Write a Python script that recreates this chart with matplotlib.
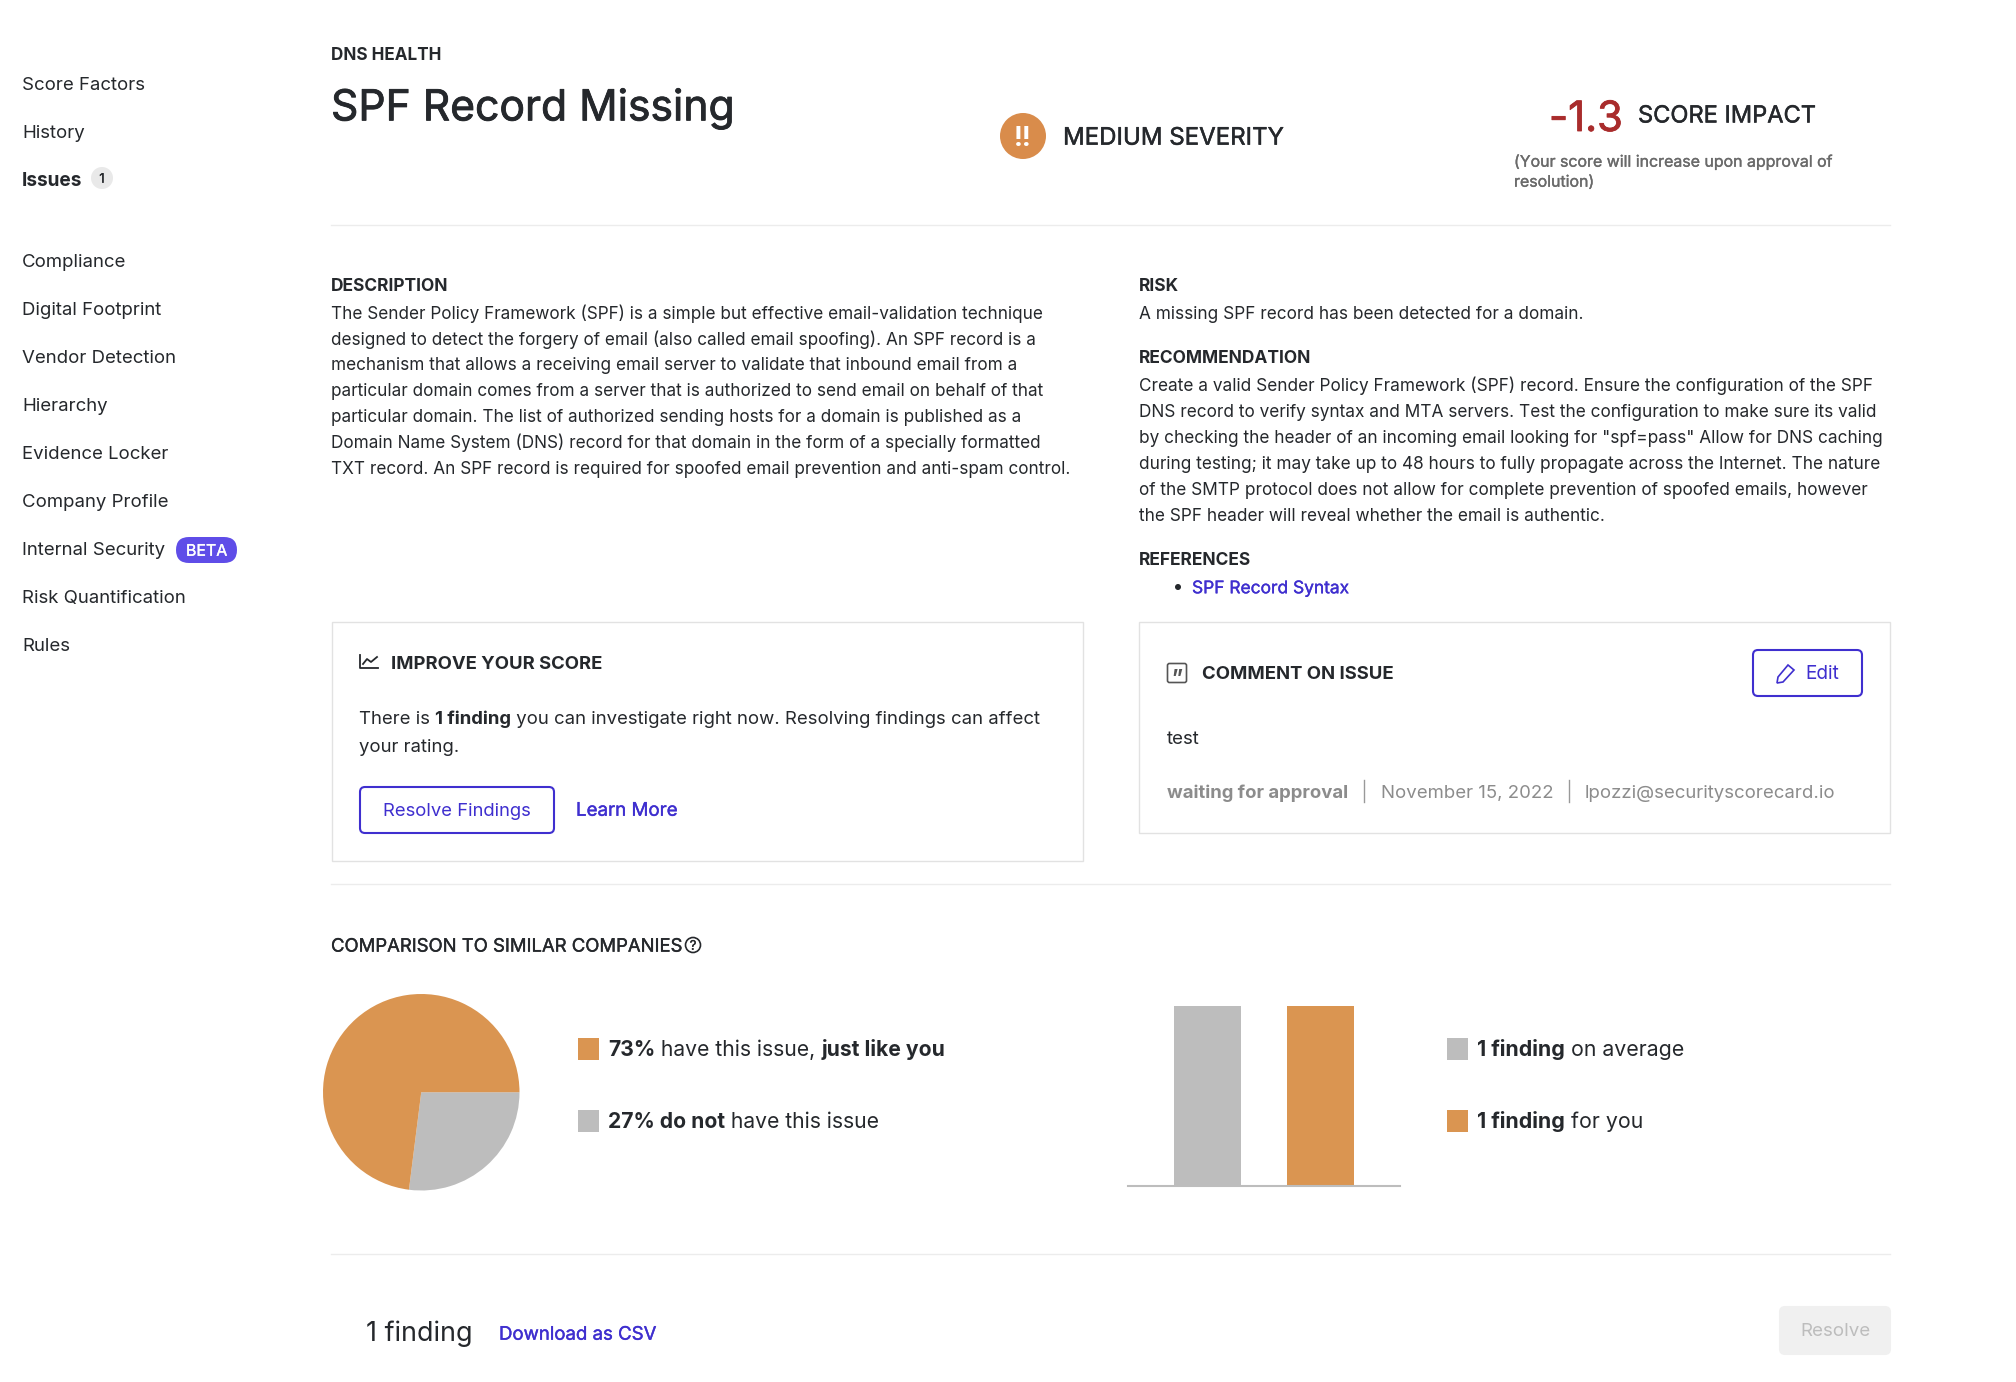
import matplotlib
matplotlib.use('Agg')
import matplotlib.pyplot as plt
import matplotlib.patheffects as pe
from matplotlib.patches import Circle, FancyBboxPatch, Polygon, Rectangle

W, H = 2016, 1382
FONT = ['Inter', 'DejaVu Sans']
DARK = '#25282c'
BLUE = '#3f2fcf'
ORANGE = '#da9551'
GRAY = '#bdbdbd'
LINE = '#ececec'

# data
pie_labels = ['do not have this issue', 'have this issue']
pie_values = [27, 73]
bar_labels = ['on average', 'for you']
bar_values = [1, 1]

nav_top = ['Score Factors', 'History']
nav_bottom = ['Compliance', 'Digital Footprint', 'Vendor Detection', 'Hierarchy',
              'Evidence Locker', 'Company Profile', 'Internal Security',
              'Risk Quantification', 'Rules']

description = [
    'The Sender Policy Framework (SPF) is a simple but effective email-validation technique',
    'designed to detect the forgery of email (also called email spoofing). An SPF record is a',
    'mechanism that allows a receiving email server to validate that inbound email from a',
    'particular domain comes from a server that is authorized to send email on behalf of that',
    'particular domain. The list of authorized sending hosts for a domain is published as a',
    'Domain Name System (DNS) record for that domain in the form of a specially formatted',
    'TXT record. An SPF record is required for spoofed email prevention and anti-spam control.',
]
recommendation = [
    'Create a valid Sender Policy Framework (SPF) record. Ensure the configuration of the SPF',
    'DNS record to verify syntax and MTA servers. Test the configuration to make sure its valid',
    'by checking the header of an incoming email looking for "spf=pass" Allow for DNS caching',
    'during testing; it may take up to 48 hours to fully propagate across the Internet. The nature',
    'of the SMTP protocol does not allow for complete prevention of spoofed emails, however',
    'the SPF header will reveal whether the email is authentic.',
]

fig = plt.figure(figsize=(W / 100, H / 100), dpi=100, facecolor='white')
ax = fig.add_axes([0, 0, 1, 1])
ax.set_xlim(0, W)
ax.set_ylim(H, 0)
ax.axis('off')
renderer = fig.canvas.get_renderer()


def text_width(s, size, weight):
    weight = 'normal' if weight == 'medium' else weight
    probe = ax.text(0, 0, s + '|', fontsize=size, fontweight=weight, family=FONT)
    bar = ax.text(0, 0, '|', fontsize=size, fontweight=weight, family=FONT)
    w = probe.get_window_extent(renderer).width - bar.get_window_extent(renderer).width
    probe.remove()
    bar.remove()
    return w


def put(x, y, parts, size=13.4, color=DARK, ha='left'):
    """Runs of (text, weight) on one line, y is the middle of the capitals"""
    if isinstance(parts, str):
        parts = [(parts, 'normal')]
    base = y + 0.36 * size * 100 / 72
    if ha == 'center':
        x = x - sum(text_width(s, size, w) for s, w in parts) / 2
    for s, w in parts:
        t = ax.text(x, base, s, fontsize=size, color=color, family=FONT, ha='left', va='baseline',
                    fontweight='normal' if w == 'medium' else w)
        if w == 'medium':
            # no medium cut of the font, thicken the regular one a little
            t.set_path_effects([pe.withStroke(linewidth=size * 0.02, foreground=color)])
        x += text_width(s, size, w)


def hline(y, x0=331, x1=1890):
    ax.plot([x0, x1], [y, y], color=LINE, lw=1)


def box(x0, y0, x1, y1):
    ax.add_patch(Rectangle((x0, y0), x1 - x0, y1 - y0, fc='white', ec='#e2e2e2', lw=1))


def button(x0, y0, x1, y1, fc='white', ec=BLUE):
    ax.add_patch(FancyBboxPatch((x0, y0), x1 - x0, y1 - y0,
                                boxstyle='round,pad=0,rounding_size=5',
                                fc=fc, ec=ec, lw=1.5))


def px_axes(x0, y0, x1, y1):
    return fig.add_axes([x0 / W, 1 - y1 / H, (x1 - x0) / W, (y1 - y0) / H])


# sidebar
for label, y in zip(nav_top, [83, 131]):
    put(22, y, label)
put(22, 179, [('Issues', 'bold')], size=13.7)
ax.add_patch(Circle((102, 178), 11, fc='#e9e9e9', ec='none'))
put(102, 178, [('1', 'medium')], size=9.5, ha='center')
for i, label in enumerate(nav_bottom):
    put(22, 260 + i * 48, label)
ax.add_patch(FancyBboxPatch((176, 537), 61, 26, boxstyle='round,pad=0,rounding_size=13',
                            fc='#5f4de8', ec='none'))
put(206.5, 550, [('BETA', 'medium')], size=11.5, color='white', ha='center')

# header
put(331, 54, [('DNS HEALTH', 'bold')], size=12.3)
put(331, 105, [('SPF Record Missing', 'medium')], size=30.7)
ax.add_patch(Circle((1023, 136), 23, fc='#d98c4b', ec='none'))
put(1023, 136, [('!!', 'bold')], size=19, color='white', ha='center')
put(1063, 136, [('MEDIUM SEVERITY', 'medium')], size=17.3)
put(1549, 116, [('-1.3', 'medium')], size=30, color='#a92c2c')
put(1638, 114, [('SCORE IMPACT', 'medium')], size=17)
put(1514, 161, [('(Your score will increase upon approval of', 'medium')], size=11.45, color='#6a6a6a')
put(1514, 181, [('resolution)', 'medium')], size=11.45, color='#6a6a6a')
hline(224.5)

# description, risk, recommendation
put(331, 284.5, [('DESCRIPTION', 'bold')], size=12.5)
for i, line in enumerate(description):
    put(331, 312.5 + i * 25.9, line, size=12.35)
put(1139, 284.5, [('RISK', 'bold')], size=12.5)
put(1139, 312.5, 'A missing SPF record has been detected for a domain.', size=12.4)
put(1139, 356.5, [('RECOMMENDATION', 'bold')], size=12.5)
for i, line in enumerate(recommendation):
    put(1139, 385 + i * 25.9, line, size=12.4)
put(1139, 558.5, [('REFERENCES', 'bold')], size=12.5)
ax.add_patch(Circle((1178, 587), 3, fc=DARK, ec='none'))
put(1192, 587, [('SPF Record Syntax', 'medium')], size=12.5, color=BLUE)

# improve score box
box(331.5, 621.5, 1082.5, 861)
ax.plot([360, 360, 378], [655, 668, 668], color=DARK, lw=1.3)
ax.plot([363, 367, 371, 377], [664, 659, 662, 657], color=DARK, lw=1.3)
put(391, 662, [('IMPROVE YOUR SCORE', 'bold')], size=13.3)
put(359, 717, [('There is ', 'normal'), ('1 finding', 'bold'),
               (' you can investigate right now. Resolving findings can affect', 'normal')], size=13.35)
put(359, 745, 'your rating.', size=13.35)
button(360, 787, 554, 833)
put(457, 809, 'Resolve Findings', size=13.3, color=BLUE, ha='center')
put(576, 809, [('Learn More', 'medium')], size=13.5, color=BLUE)

# comment box
box(1139, 621.5, 1890, 833)
ax.add_patch(FancyBboxPatch((1167.5, 663.5), 19, 19, boxstyle='round,pad=0,rounding_size=2',
                            fc='white', ec='#555555', lw=1.2))
put(1177, 677, [('\u201d', 'bold')], size=15, color='#555555', ha='center')
put(1202, 672, [('COMMENT ON ISSUE', 'bold')], size=13.35)
button(1753, 650, 1862, 696)
ax.add_patch(Polygon([[1777, 683], [1778, 677], [1788, 665], [1794, 670], [1783, 682]],
                     closed=True, fc='white', ec=BLUE, lw=1.2))
put(1805, 672, 'Edit', size=13.7, color=BLUE)
put(1167, 737, 'test', size=13.5)
put(1167, 791, [('waiting for approval', 'bold')], size=13.35, color='#8c8c8c')
ax.plot([1364, 1364], [780, 802], color='#999999', lw=1)
put(1381, 791, 'November 15, 2022', size=13.4, color='#8c8c8c')
ax.plot([1569, 1569], [780, 802], color='#999999', lw=1)
put(1585, 791, 'lpozzi@securityscorecard.io', size=13.4, color='#8c8c8c')
hline(884)

# comparison
put(331, 945, [('COMPARISON TO SIMILAR COMPANIES', 'medium')], size=13.3)
ax.add_patch(Circle((693, 945), 7.5, fc='white', ec=DARK, lw=1.2))
put(693, 945, [('?', 'medium')], size=9.5, ha='center')

pie_ax = px_axes(323, 994, 519.5, 1190.5)
pie_ax.pie(pie_values, colors=[GRAY, ORANGE], startangle=0, counterclock=False, radius=1)
pie_ax.set_xlim(-1, 1)
pie_ax.set_ylim(-1, 1)

ax.add_patch(Rectangle((578, 1038), 21, 22, fc=ORANGE, ec='none'))
put(608, 1048, [('73%', 'bold'), (' have this issue, ', 'normal'), ('just like you', 'bold')], size=15.2)
ax.add_patch(Rectangle((578, 1110), 21, 22, fc=GRAY, ec='none'))
put(608, 1120, [('27% do not', 'bold'), (' have this issue', 'normal')], size=15.15)

bar_ax = px_axes(1127.5, 1006, 1400, 1186)
bar_ax.bar([0, 1], bar_values, width=0.593, color=[GRAY, ORANGE])
bar_ax.set_xlim(-0.708, 1.704)
bar_ax.set_ylim(0, 1)
bar_ax.set_xticks([])
bar_ax.set_yticks([])
for side in ['top', 'left', 'right']:
    bar_ax.spines[side].set_visible(False)
bar_ax.spines['bottom'].set_color(GRAY)
bar_ax.spines['bottom'].set_linewidth(1.5)

ax.add_patch(Rectangle((1447, 1038), 21, 22, fc=GRAY, ec='none'))
put(1477, 1048, [('1 finding', 'bold'), (' ' + bar_labels[0], 'normal')], size=15.35)
ax.add_patch(Rectangle((1447, 1110), 21, 22, fc=ORANGE, ec='none'))
put(1477, 1120, [('1 finding', 'bold'), (' ' + bar_labels[1], 'normal')], size=15.35)
hline(1254)

# footer
put(366, 1331, '1 finding', size=19.4)
put(499, 1333, [('Download as CSV', 'medium')], size=13.4, color=BLUE)
button(1780, 1307, 1890, 1354, fc='#f0f0f0', ec='#f0f0f0')
put(1835, 1329, 'Resolve', size=13.5, color='#bdbdbd', ha='center')

fig.savefig('out.png', dpi=100, facecolor='white')
